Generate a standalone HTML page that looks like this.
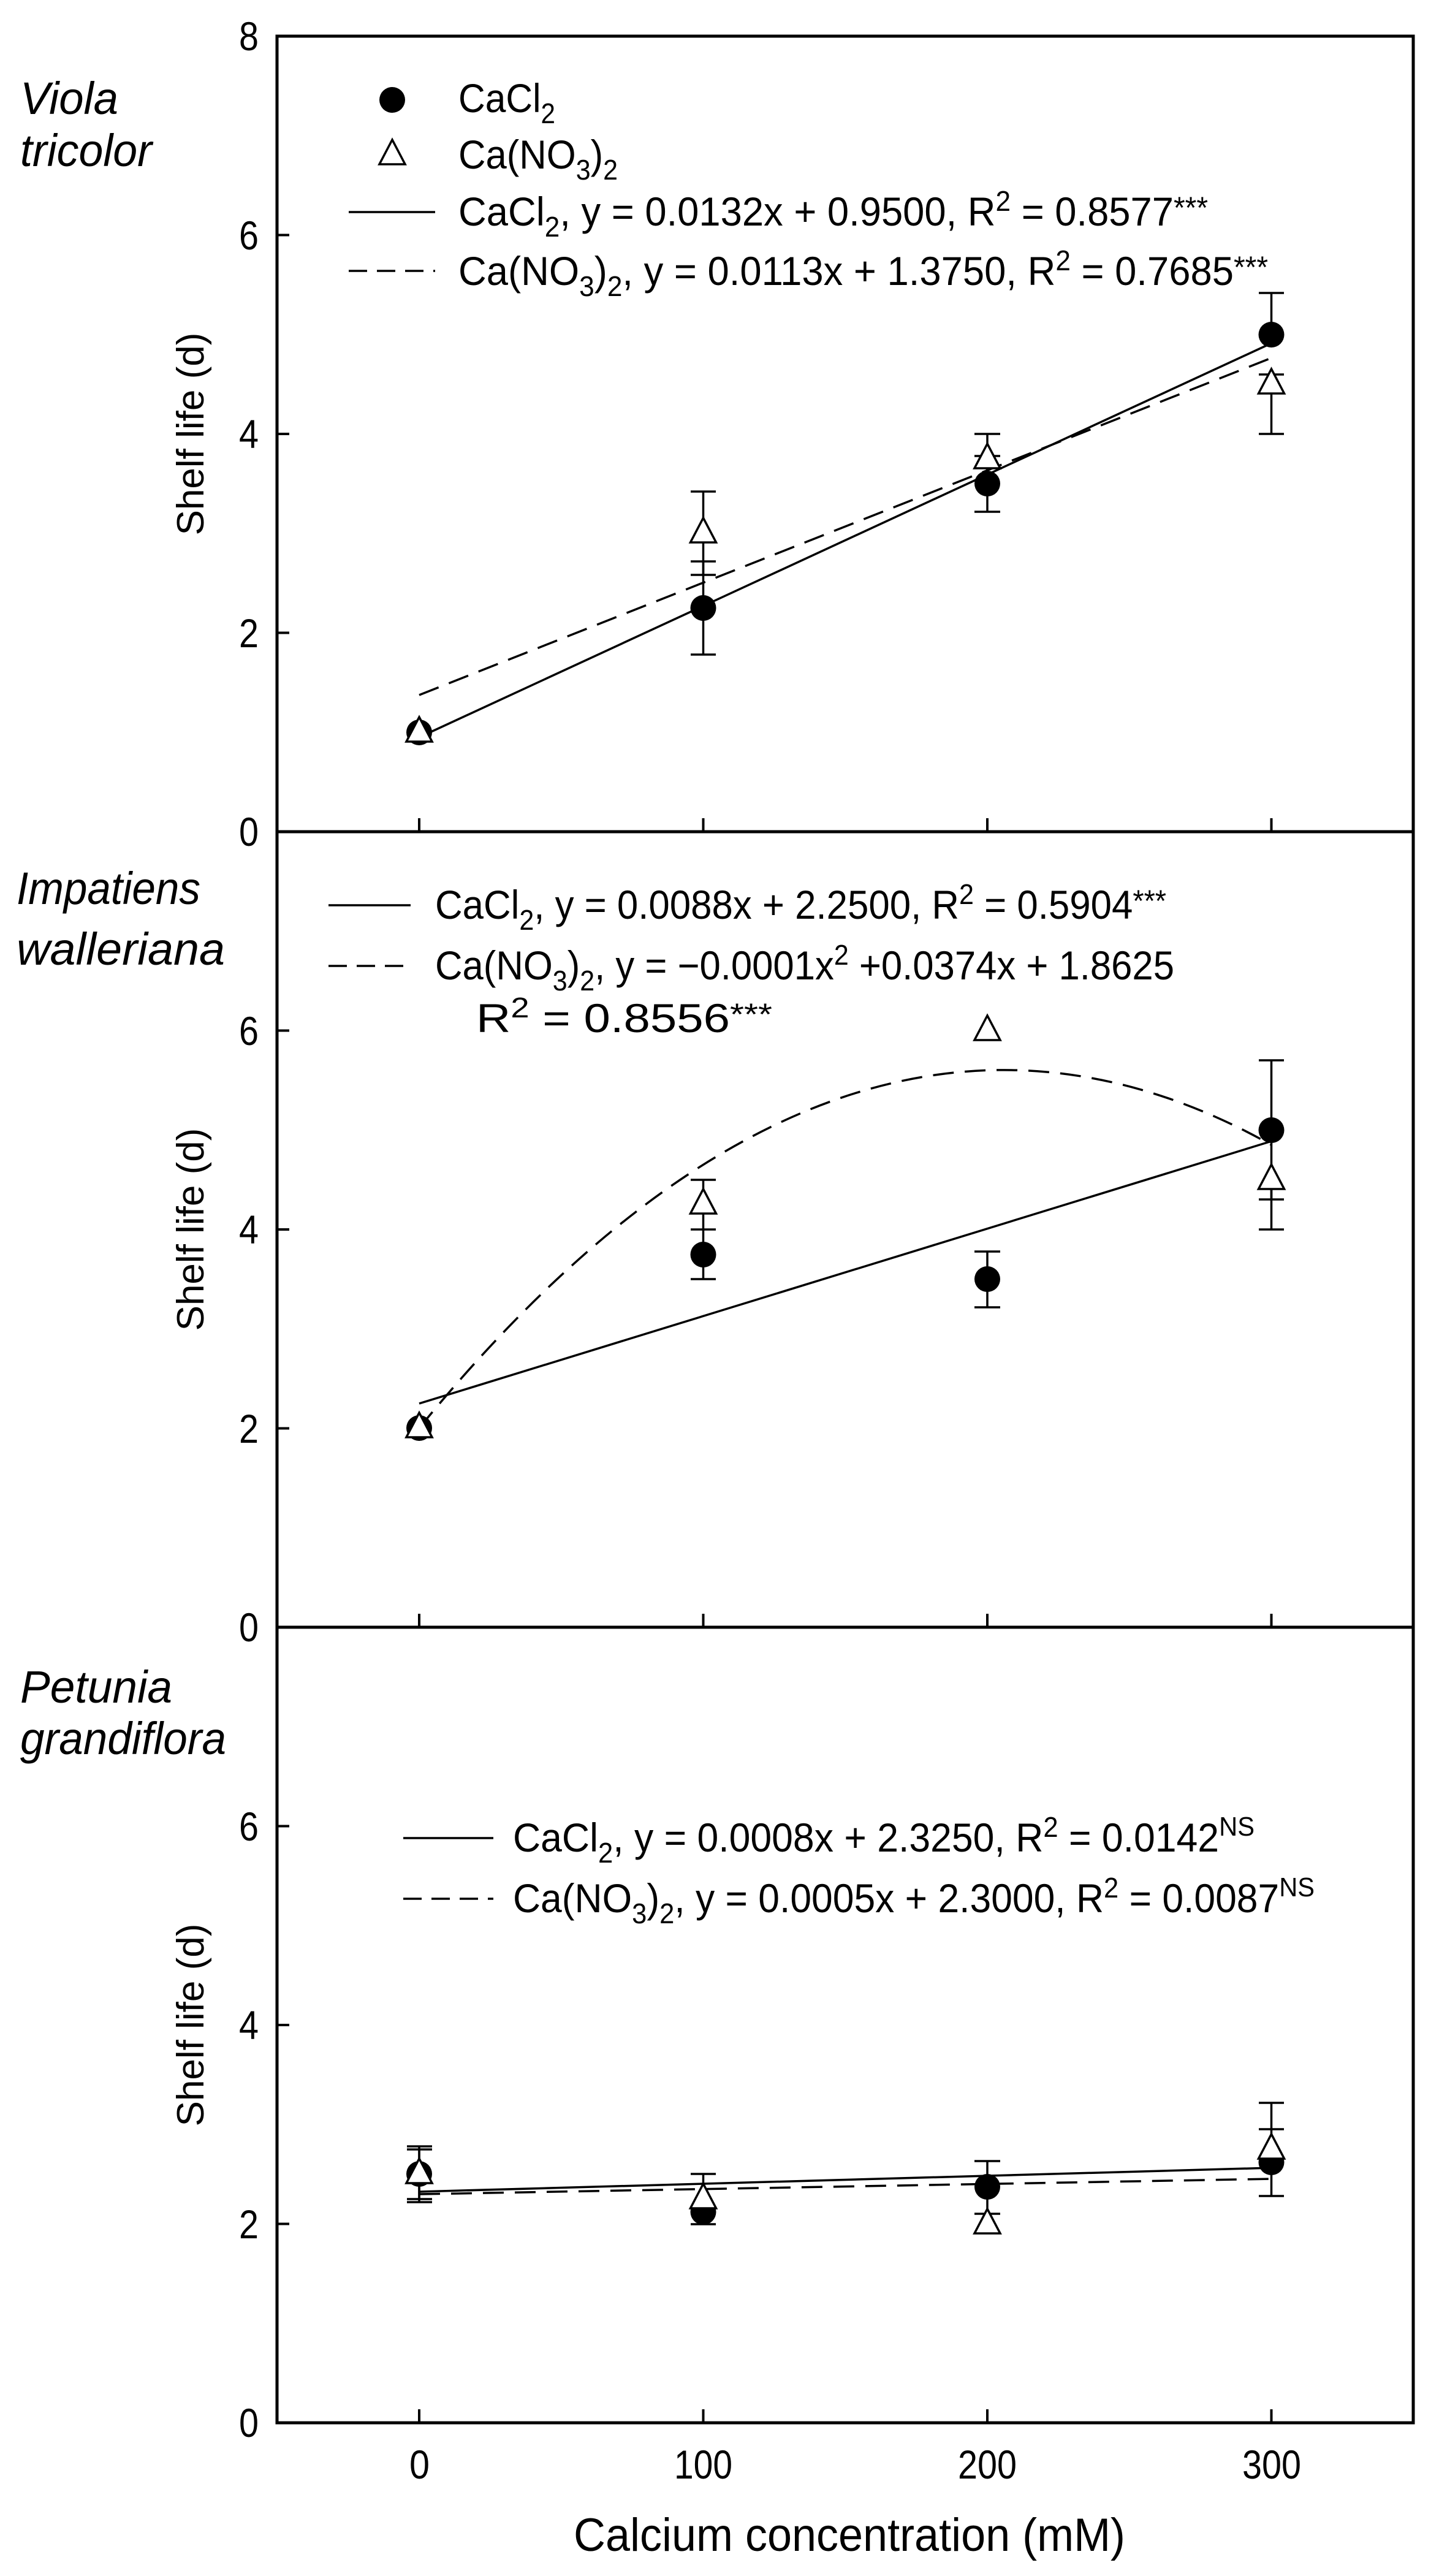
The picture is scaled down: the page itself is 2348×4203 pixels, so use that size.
<!DOCTYPE html>
<html><head><meta charset="utf-8"><style>
html,body{margin:0;padding:0;background:#fff}
svg{display:block}
text{font-family:"Liberation Sans Narrow","Liberation Sans",sans-serif;fill:#000}
.it{font-style:italic;font-size:74px}
.tk{font-size:66px}
.lg{font-size:66px}
.yl{font-family:"Liberation Sans",sans-serif;font-size:62px}
</style></head><body>
<svg width="2348" height="4203" viewBox="0 0 2348 4203" xmlns="http://www.w3.org/2000/svg">
<defs>
<g id="tri"><path d="M0,-25 L21,15 L-21,15 Z" fill="#fff" stroke="#000" stroke-width="3.5"/></g>
<g id="cir"><circle r="21" fill="#000"/></g>
</defs>
<g fill="none" stroke="#000" stroke-width="5">
<rect x="452" y="59" width="1854" height="3894"/>
<line x1="452" y1="1357" x2="2306" y2="1357"/>
<line x1="452" y1="2655" x2="2306" y2="2655"/>
</g>
<g stroke="#000" stroke-width="4">
<path d="M684,1357v-22M1147.5,1357v-22M1611,1357v-22M2074.5,1357v-22"/>
<path d="M684,2655v-22M1147.5,2655v-22M1611,2655v-22M2074.5,2655v-22"/>
<path d="M684,3953v-22M1147.5,3953v-22M1611,3953v-22M2074.5,3953v-22"/>
<path d="M452,1032.5h20M452,708h20M452,383.5h20"/>
<path d="M452,2330.5h20M452,2006h20M452,1681.5h20"/>
<path d="M452,3628.5h20M452,3304h20M452,2979.5h20"/>
</g>
<g class="tk" text-anchor="end">
<text x="422" y="82" textLength="32" lengthAdjust="spacingAndGlyphs">8</text><text x="422" y="407" textLength="32" lengthAdjust="spacingAndGlyphs">6</text><text x="422" y="731" textLength="32" lengthAdjust="spacingAndGlyphs">4</text><text x="422" y="1056" textLength="32" lengthAdjust="spacingAndGlyphs">2</text><text x="422" y="1380" textLength="32" lengthAdjust="spacingAndGlyphs">0</text>
<text x="422" y="1705" textLength="32" lengthAdjust="spacingAndGlyphs">6</text><text x="422" y="2029" textLength="32" lengthAdjust="spacingAndGlyphs">4</text><text x="422" y="2354" textLength="32" lengthAdjust="spacingAndGlyphs">2</text><text x="422" y="2678" textLength="32" lengthAdjust="spacingAndGlyphs">0</text>
<text x="422" y="3003" textLength="32" lengthAdjust="spacingAndGlyphs">6</text><text x="422" y="3327" textLength="32" lengthAdjust="spacingAndGlyphs">4</text><text x="422" y="3652" textLength="32" lengthAdjust="spacingAndGlyphs">2</text><text x="422" y="3976" textLength="32" lengthAdjust="spacingAndGlyphs">0</text>
</g>
<g class="tk">
<text x="668" y="4044" textLength="33" lengthAdjust="spacingAndGlyphs">0</text><text x="1100" y="4044" textLength="95" lengthAdjust="spacingAndGlyphs">100</text><text x="1563" y="4044" textLength="96" lengthAdjust="spacingAndGlyphs">200</text><text x="2027" y="4044" textLength="96" lengthAdjust="spacingAndGlyphs">300</text>
</g>
<text x="936" y="4162" style="font-size:76px" textLength="900" lengthAdjust="spacingAndGlyphs">Calcium concentration (mM)</text>
<text class="yl" transform="translate(332,708) rotate(-90)" text-anchor="middle">Shelf life (d)</text>
<text class="yl" transform="translate(332,2006) rotate(-90)" text-anchor="middle">Shelf life (d)</text>
<text class="yl" transform="translate(332,3304) rotate(-90)" text-anchor="middle">Shelf life (d)</text>
<text class="it" x="33" y="186" textLength="160" lengthAdjust="spacingAndGlyphs">Viola</text>
<text class="it" x="33" y="271" textLength="215" lengthAdjust="spacingAndGlyphs">tricolor</text>
<text class="it" x="27" y="1475" textLength="300" lengthAdjust="spacingAndGlyphs">Impatiens</text>
<text class="it" x="27" y="1574" textLength="340" lengthAdjust="spacingAndGlyphs">walleriana</text>
<text class="it" x="33" y="2778" textLength="248" lengthAdjust="spacingAndGlyphs">Petunia</text>
<text class="it" x="33" y="2862" textLength="336" lengthAdjust="spacingAndGlyphs">grandiflora</text>

<g stroke="#000" stroke-width="3.5" fill="none">
<line x1="684" y1="1203" x2="2074.5" y2="560"/>
<line x1="684" y1="1134" x2="2074.5" y2="584" stroke-dasharray="34,18"/>
<path d="M1147.5,916V1068M1127,916h41M1127,1068h41"/>
<path d="M1611,744V835M1590,744h42M1590,835h42"/>
<path d="M2074.5,478V546M2054,478h41"/>
<path d="M1147.5,802V938M1127,802h41M1127,938h41"/>
<path d="M1611,708V789M1590,708h42"/>
<path d="M2074.5,611V708M2054,611h41M2054,708h41"/>
</g>
<use href="#cir" x="684" y="1195"/><use href="#cir" x="1147.5" y="992"/><use href="#cir" x="1611" y="789"/><use href="#cir" x="2074.5" y="546"/>
<use href="#tri" x="684" y="1195"/><use href="#tri" x="1147.5" y="870"/><use href="#tri" x="1611" y="749"/><use href="#tri" x="2074.5" y="627"/>
<use href="#cir" x="640" y="163"/>
<use href="#tri" x="640" y="253"/>
<line x1="569" y1="346" x2="710" y2="346" stroke="#000" stroke-width="3.5"/>
<line x1="569" y1="442" x2="710" y2="442" stroke="#000" stroke-width="3.5" stroke-dasharray="30,16"/>
<g class="lg">
<text x="748" y="183" textLength="158" lengthAdjust="spacingAndGlyphs">CaCl<tspan font-size="46" dy="18">2</tspan></text>
<text x="748" y="275" textLength="260" lengthAdjust="spacingAndGlyphs">Ca(NO<tspan font-size="46" dy="18">3</tspan><tspan dy="-18">)</tspan><tspan font-size="46" dy="18">2</tspan></text>
<text x="748" y="368" textLength="1223" lengthAdjust="spacingAndGlyphs">CaCl<tspan font-size="46" dy="18">2</tspan><tspan dy="-18">, y = 0.0132x + 0.9500, R</tspan><tspan font-size="46" dy="-24">2</tspan><tspan dy="24"> = 0.8577</tspan><tspan font-size="50" dy="-12">***</tspan></text>
<text x="748" y="465" textLength="1321" lengthAdjust="spacingAndGlyphs">Ca(NO<tspan font-size="46" dy="18">3</tspan><tspan dy="-18">)</tspan><tspan font-size="46" dy="18">2</tspan><tspan dy="-18">, y = 0.0113x + 1.3750, R</tspan><tspan font-size="46" dy="-24">2</tspan><tspan dy="24"> = 0.7685</tspan><tspan font-size="50" dy="-12">***</tspan></text>
</g>

<g stroke="#000" stroke-width="3.5" fill="none">
<line x1="684" y1="2290" x2="2074.5" y2="1862"/>
<path d="M684,2330 Q1379.25,1478.7 2074.5,1868" stroke-dasharray="34,18"/>
<path d="M1147.5,2006V2087M1127,2006h41M1127,2087h41"/>
<path d="M1611,2042V2133M1590,2042h42M1590,2133h42"/>
<path d="M2074.5,1730V1957M2054,1730h41M2054,1957h41"/>
<path d="M1147.5,1925V2006M1127,1925h41"/>
<path d="M2074.5,1925V2006M2054,2006h41"/>
</g>
<use href="#cir" x="684" y="2330"/><use href="#cir" x="1147.5" y="2047"/><use href="#cir" x="1611" y="2087"/><use href="#cir" x="2074.5" y="1844"/>
<use href="#tri" x="684" y="2330"/><use href="#tri" x="1147.5" y="1965"/><use href="#tri" x="1611" y="1682"/><use href="#tri" x="2074.5" y="1925"/>
<line x1="536" y1="1477" x2="670" y2="1477" stroke="#000" stroke-width="3.5"/>
<line x1="536" y1="1576" x2="670" y2="1576" stroke="#000" stroke-width="3.5" stroke-dasharray="30,16"/>
<g class="lg">
<text x="710" y="1499" textLength="1193" lengthAdjust="spacingAndGlyphs">CaCl<tspan font-size="46" dy="18">2</tspan><tspan dy="-18">, y = 0.0088x + 2.2500, R</tspan><tspan font-size="46" dy="-24">2</tspan><tspan dy="24"> = 0.5904</tspan><tspan font-size="50" dy="-12">***</tspan></text>
<text x="710" y="1598" textLength="1206" lengthAdjust="spacingAndGlyphs">Ca(NO<tspan font-size="46" dy="18">3</tspan><tspan dy="-18">)</tspan><tspan font-size="46" dy="18">2</tspan><tspan dy="-18">, y = −0.0001x</tspan><tspan font-size="46" dy="-24">2</tspan><tspan dy="24"> +0.0374x + 1.8625</tspan></text>
<text x="777" y="1684" textLength="483" lengthAdjust="spacingAndGlyphs">R<tspan font-size="46" dy="-24">2</tspan><tspan dy="24"> = 0.8556</tspan><tspan font-size="50" dy="-12">***</tspan></text>
</g>

<g stroke="#000" stroke-width="3.5" fill="none">
<line x1="684" y1="3576" x2="2074.5" y2="3537"/>
<line x1="684" y1="3580" x2="2074.5" y2="3555" stroke-dasharray="34,18"/>
<path d="M684,3502V3593M664,3502h41M664,3593h41"/>
<path d="M684,3507V3588M664,3507h41M664,3588h41"/>
<path d="M1147.5,3547V3629M1127,3547h41M1127,3629h41"/>
<path d="M1611,3526V3612M1590,3526h42M1590,3612h42"/>
<path d="M2074.5,3431V3583M2054,3431h41M2054,3474h41M2054,3583h41"/>
</g>
<use href="#cir" x="684" y="3547"/><use href="#cir" x="1147.5" y="3609"/><use href="#cir" x="1611" y="3568"/><use href="#cir" x="2074.5" y="3528"/>
<use href="#tri" x="684" y="3547"/><use href="#tri" x="1147.5" y="3588"/><use href="#tri" x="1611" y="3629"/><use href="#tri" x="2074.5" y="3507"/>
<line x1="658" y1="2999" x2="805" y2="2999" stroke="#000" stroke-width="3.5"/>
<line x1="658" y1="3098" x2="805" y2="3098" stroke="#000" stroke-width="3.5" stroke-dasharray="30,16"/>
<g class="lg">
<text x="837" y="3021" textLength="1210" lengthAdjust="spacingAndGlyphs">CaCl<tspan font-size="46" dy="18">2</tspan><tspan dy="-18">, y = 0.0008x + 2.3250, R</tspan><tspan font-size="46" dy="-24">2</tspan><tspan dy="24"> = 0.0142</tspan><tspan font-size="44" dy="-26">NS</tspan></text>
<text x="837" y="3120" textLength="1308" lengthAdjust="spacingAndGlyphs">Ca(NO<tspan font-size="46" dy="18">3</tspan><tspan dy="-18">)</tspan><tspan font-size="46" dy="18">2</tspan><tspan dy="-18">, y = 0.0005x + 2.3000, R</tspan><tspan font-size="46" dy="-24">2</tspan><tspan dy="24"> = 0.0087</tspan><tspan font-size="44" dy="-26">NS</tspan></text>
</g>
</svg>
</body></html>
